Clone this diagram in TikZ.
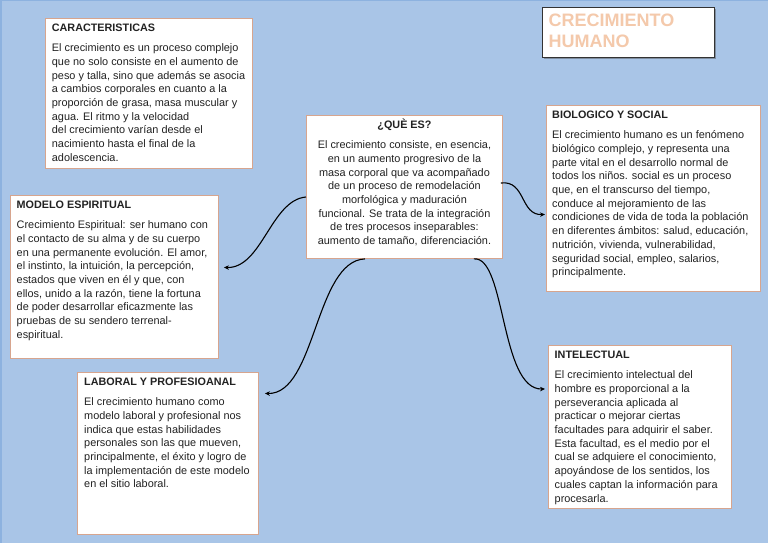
\documentclass[tikz,border=0pt]{standalone}
\usepackage{fontspec}
\setmainfont{Liberation Sans}
\usetikzlibrary{arrows.meta,shadows,calc}
\definecolor{bg}{HTML}{A9C5E7}
\definecolor{bgedge}{HTML}{8DB2DF}
\definecolor{boxline}{HTML}{D7A58E}
\definecolor{txtcol}{HTML}{222222}
\definecolor{peach}{HTML}{F4C9AB}
\tikzset{
  boxframe/.style={draw=boxline, fill=white, line width=0.9pt, anchor=north west, inner sep=0pt},
  txt/.style={anchor=north west, align=left, inner sep=0pt, text=txtcol,
    font=\fontsize{10.9}{13.7}\selectfont},
  ctxt/.style={txt, anchor=north, align=center},
  conn/.style={line width=1.1pt, -{Stealth[length=5pt,width=4.5pt]}}
}
\newcommand{\hd}[1]{\rule{0pt}{10pt}{\fontsize{10.8}{13.7}\selectfont\bfseries #1}\\[6.3pt]}
\begin{document}
\begin{tikzpicture}[x=1pt,y=-1pt]
\useasboundingbox (0,0) rectangle (768,543);
\fill[bg] (0,0) rectangle (768,543);
\draw[bgedge, line width=1.5pt] (0.75,543) -- (0.75,0.75) -- (768,0.75);

% title
\node[draw=black!80, fill=white, line width=0.9pt, anchor=north west, inner sep=0pt,
  minimum width=172pt, minimum height=50pt,
  drop shadow={shadow xshift=2pt, shadow yshift=-2pt, opacity=0.45, fill=black!70}] (title) at (542,7) {};
\node[anchor=north west, align=left, inner sep=0pt, text=peach,
  font=\fontsize{18}{21}\selectfont\bfseries] (title-t) at ($(title.north west)+(6.5,5.7)$) {\rule{0pt}{14pt}CRECIMIENTO\\HUMANO};

% boxes
\node[boxframe, minimum width=207pt, minimum height=150pt] (car) at (45,18) {};
\node[boxframe, minimum width=196pt, minimum height=143pt] (que) at (306,115) {};
\node[boxframe, minimum width=214pt, minimum height=186pt] (bio) at (546,105) {};
\node[boxframe, minimum width=208pt, minimum height=163pt] (esp) at (10,195) {};
\node[boxframe, minimum width=181pt, minimum height=162pt] (lab) at (77,372) {};
\node[boxframe, minimum width=183pt, minimum height=163pt] (int) at (548,345) {};

% texts
\node[txt] (car-t) at ($(car.north west)+(6.7,3.5)$) {\hd{CARACTERISTICAS}%
El crecimiento es un proceso complejo\\
que no solo consiste en el aumento de\\
peso y talla, sino que además se asocia\\
a cambios corporales en cuanto a la\\
proporción de grasa, masa muscular y\\
agua. El ritmo y la velocidad\\
del crecimiento varían desde el\\
nacimiento hasta el final de la\\
adolescencia.};

\node[ctxt] (que-t) at ($(que.north)+(0,3.5)$) {\hd{¿QUÈ ES?}%
El crecimiento consiste, en esencia,\\
en un aumento progresivo de la\\
masa corporal que va acompañado\\
de un proceso de remodelación\\
morfológica y maduración\\
funcional. Se trata de la integración\\
de tres procesos inseparables:\\
aumento de tamaño, diferenciación.};

\node[txt] (bio-t) at ($(bio.north west)+(6,3.5)$) {\hd{BIOLOGICO Y SOCIAL}%
El crecimiento humano es un fenómeno\\
biológico complejo, y representa una\\
parte vital en el desarrollo normal de\\
todos los niños. social es un proceso\\
que, en el transcurso del tiempo,\\
conduce al mejoramiento de las\\
condiciones de vida de toda la población\\
en diferentes ámbitos: salud, educación,\\
nutrición, vivienda, vulnerabilidad,\\
seguridad social, empleo, salarios,\\
principalmente.};

\node[txt] (esp-t) at ($(esp.north west)+(6.5,3.5)$) {\hd{MODELO ESPIRITUAL}%
Crecimiento Espiritual: ser humano con\\
el contacto de su alma y de su cuerpo\\
en una permanente evolución. El amor,\\
el instinto, la intuición, la percepción,\\
estados que viven en él y que, con\\
ellos, unido a la razón, tiene la fortuna\\
de poder desarrollar eficazmente las\\
pruebas de su sendero terrenal-\\
espiritual.};

\node[txt] (lab-t) at ($(lab.north west)+(7,3.5)$) {\hd{LABORAL Y PROFESIOANAL}%
El crecimiento humano como\\
modelo laboral y profesional nos\\
indica que estas habilidades\\
personales son las que mueven,\\
principalmente, el éxito y logro de\\
la implementación de este modelo\\
en el sitio laboral.};

\node[txt] (int-t) at ($(int.north west)+(6.5,3.5)$) {\hd{INTELECTUAL}%
El crecimiento intelectual del\\
hombre es proporcional a la\\
perseverancia aplicada al\\
practicar o mejorar ciertas\\
facultades para adquirir el saber.\\
Esta facultad, es el medio por el\\
cual se adquiere el conocimiento,\\
apoyándose de los sentidos, los\\
cuales captan la información para\\
procesarla.};

% connectors
\draw[conn] ($(que.north west)+(0,82)$) .. controls +(-35,3) and +(38,1) .. ($(esp.east)+(5,-9.5)$);
\draw[conn] ($(que.south west)+(59,0)$) .. controls +(-50,2) and +(51,1) .. ($(lab.east)+(6,-60)$);
\draw[conn] ($(que.north east)+(-2,68)$) .. controls +(25,-3) and +(-25,1) .. ($(bio.west)+(-1,16)$);
\draw[conn] ($(que.south east)+(-29,0)$) .. controls +(32,-3) and +(-45,1) .. ($(int.west)+(-3,-38)$);
\end{tikzpicture}
\end{document}
